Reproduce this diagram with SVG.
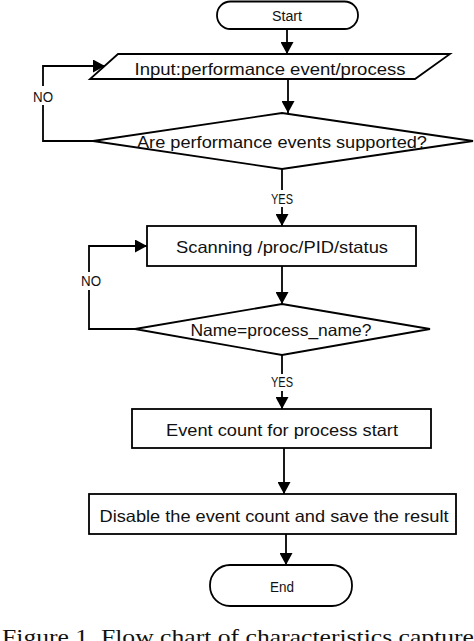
<svg xmlns="http://www.w3.org/2000/svg" width="474" height="641" viewBox="0 0 474 641">
<style>
.shape{fill:#fff;stroke:#000;stroke-width:1.8}
.line{fill:none;stroke:#000;stroke-width:1.8}
.t{font-family:"Liberation Sans",Arial,sans-serif;fill:#111;text-anchor:middle}
.big{font-size:16.5px}
.small{font-size:14px}
.cap{font-family:"Liberation Serif","Times New Roman",serif;font-size:22px;fill:#111}
</style>
<defs>
<marker id="arr" viewBox="0 0 12 13" refX="12" refY="6.5" markerWidth="12" markerHeight="13" markerUnits="userSpaceOnUse" orient="auto">
<path d="M0,0 L12,6.5 L0,13 Z" fill="#000"/>
</marker>
</defs>
<rect width="474" height="641" fill="#fff"/>
<g id="start">
<rect class="shape" x="217" y="1.5" width="141" height="27.5" rx="13.5"/>
<text class="t small" x="287" y="21" textLength="30" lengthAdjust="spacingAndGlyphs">Start</text>
</g>
<g id="input">
<polygon class="shape" points="118,54 450,54 415,79 90,79"/>
<text class="t big" x="270" y="75" textLength="271" lengthAdjust="spacingAndGlyphs">Input:performance event/process</text>
</g>
<g id="decision1">
<polygon class="shape" points="282,113 473,141 282,169 93,141"/>
<text class="t big" x="282" y="148" textLength="290" lengthAdjust="spacingAndGlyphs">Are performance events supported?</text>
</g>
<g id="scan">
<rect class="shape" x="147" y="226" width="269" height="40"/>
<text class="t big" x="282" y="253" textLength="212" lengthAdjust="spacingAndGlyphs">Scanning /proc/PID/status</text>
</g>
<g id="decision2">
<polygon class="shape" points="282,304 430,329 282,355 135,329"/>
<text class="t big" x="281" y="336" textLength="181" lengthAdjust="spacingAndGlyphs">Name=process_name?</text>
</g>
<g id="count">
<rect class="shape" x="132" y="409" width="299" height="39"/>
<text class="t big" x="282" y="436" textLength="232" lengthAdjust="spacingAndGlyphs">Event count for process start</text>
</g>
<g id="disable">
<rect class="shape" x="89" y="494" width="367" height="40"/>
<text class="t big" x="274" y="522" textLength="349" lengthAdjust="spacingAndGlyphs">Disable the event count and save the result</text>
</g>
<g id="end">
<rect class="shape" x="210" y="565" width="142" height="41" rx="20"/>
<text class="t small" x="282" y="592" textLength="24" lengthAdjust="spacingAndGlyphs">End</text>
</g>
<g id="connectors">
<line class="line" x1="287" y1="29" x2="287" y2="54" marker-end="url(#arr)"/>
<line class="line" x1="288" y1="79" x2="288" y2="113" marker-end="url(#arr)"/>
<line class="line" x1="282" y1="169" x2="282" y2="190"/>
<line class="line" x1="282" y1="207" x2="282" y2="226" marker-end="url(#arr)"/>
<polyline class="line" points="93,141 43,141 43,105"/>
<polyline class="line" points="43,86 43,66 105,66" marker-end="url(#arr)"/>
<polyline class="line" points="135,329 89,329 89,290"/>
<polyline class="line" points="89,272 89,246 147,246" marker-end="url(#arr)"/>
<line class="line" x1="282" y1="266" x2="282" y2="304" marker-end="url(#arr)"/>
<line class="line" x1="282" y1="355" x2="282" y2="374"/>
<line class="line" x1="282" y1="391" x2="282" y2="409" marker-end="url(#arr)"/>
<line class="line" x1="284" y1="448" x2="284" y2="494" marker-end="url(#arr)"/>
<line class="line" x1="286" y1="534" x2="286" y2="565" marker-end="url(#arr)"/>
</g>
<g id="labels">
<text class="t small" x="43" y="102" textLength="20" lengthAdjust="spacingAndGlyphs">NO</text>
<text class="t small" x="282" y="204" textLength="22" lengthAdjust="spacingAndGlyphs">YES</text>
<text class="t small" x="91" y="286" textLength="20" lengthAdjust="spacingAndGlyphs">NO</text>
<text class="t small" x="282" y="387" textLength="22" lengthAdjust="spacingAndGlyphs">YES</text>
</g>
<text class="cap" x="2" y="644" textLength="472" lengthAdjust="spacingAndGlyphs">Figure 1. Flow chart of characteristics capture</text>
</svg>
